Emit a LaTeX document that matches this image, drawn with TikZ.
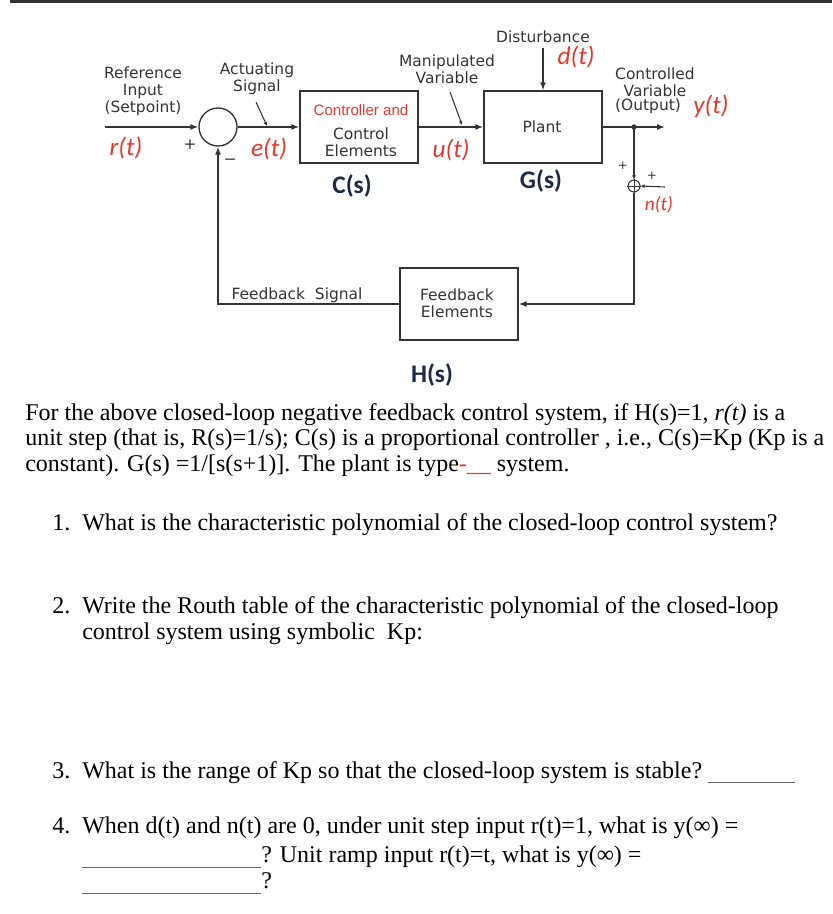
\documentclass[tikz,border=0pt]{standalone}
\usepackage{fontspec}
\setmainfont{Liberation Serif}
\newfontfamily\djv{DejaVu Sans}
\newfontfamily\arl{Liberation Sans}
\newfontfamily\carl{Carlito}
\usetikzlibrary{arrows.meta}
\definecolor{redlab}{HTML}{E8362D}
\definecolor{navy}{HTML}{1C2B45}
\definecolor{linec}{HTML}{333333}
\begin{document}
\begin{tikzpicture}[x=0.75pt,y=-0.75pt,
  lab/.style={font=\djv\fontsize{11.6}{12.75}\selectfont, text=linec, inner sep=0, align=center},
  redl/.style={font=\carl\itshape\fontsize{19}{20}\selectfont, text=redlab, inner sep=0},
  tf/.style={font=\carl\bfseries\fontsize{19}{20}\selectfont, text=navy, inner sep=0},
  blk/.style={draw=linec, line width=1pt, minimum width=88.5pt, minimum height=54pt, inner sep=0},
  arr/.style={draw=linec, line width=1pt, -{Latex[length=6pt,width=4.5pt]}},
  sarr/.style={draw=linec, line width=0.8pt, -{Latex[length=3pt,width=3pt]}},
  ln/.style={draw=linec, line width=1pt},
  body/.style={font=\fontsize{18}{21}\selectfont, anchor=base west, inner sep=0},
  blank/.style={draw=black!60, line width=0.6pt},
]
\useasboundingbox (0,0) rectangle (832,914);
\draw[line width=2.5pt, draw=black!80] (10,1.5) -- (832,1.5);

% blocks
\node[draw=linec, line width=1pt, circle, minimum size=28.5pt, inner sep=0] (sum) at (218,127) {};
\node[blk] (ctrl) at (359,127) {};
\node[blk] (plant) at (543,127) {};
\node[blk] (fb) at (459,304) {};
\node[draw=linec, line width=0.8pt, circle, minimum size=9pt, inner sep=0] (ncirc) at (634,186) {};
\draw[ln, line width=0.6pt] (ncirc.north) -- (ncirc.south) (ncirc.west) -- (ncirc.east);

% coordinates
\coordinate (rin) at (105,127);
\coordinate (tap) at (634,127);
\coordinate (yout) at (665,127);
\coordinate (dist) at (543,48);
\coordinate (nin) at (665,187);
\coordinate (aS) at (256,102);
\coordinate (aE) at (267,126);
\coordinate (mS) at (450,92);
\coordinate (mE) at (462,125);

% connectors
\draw[arr] (rin) -- (sum.west);
\draw[arr] (sum.east) -- (ctrl.west);
\draw[arr] (ctrl.east) -- (plant.west);
\draw[arr] (plant.east) -- (yout);
\draw[arr] (dist) -- (plant.north);
\fill[linec] (tap) circle (2pt);
\draw[sarr] (tap) -- (ncirc.north);
\draw[sarr] (nin) -- (ncirc.east);
\draw[arr] (ncirc.south) |- (fb.east);
\draw[arr] (fb.west) -| (sum.south);
\draw[sarr] (aS) -- (aE);
\draw[sarr] (mS) -- (mE);

% labels
\node[lab] (l1) at (543,37) {Disturbance};
\node[lab] (l2) at (447,69) {Manipulated\\Variable};
\node[lab] (l3) at (143,91) {Reference\\Input\\(Setpoint)};
\node[lab] (l4) at (257,79) {Actuating\\Signal};
\node[lab] (l5) at (655,82) {Controlled\\Variable};
\node[lab] (l6) at (648,106) {(Output)};
\node[lab, text=redlab, font=\arl\fontsize{11.3}{13}\selectfont] (l7) at (361,110) {Controller and};
\node[lab] (l8) at (361,142) {Control\\Elements};
\node[lab] (l9) at (542,127) {Plant};
\node[lab] (l10) at (297,295) {Feedback\ \ Signal};
\node[lab] (l11) at (457,303) {Feedback\\Elements};
\node[lab] (p1) at (190,145) {+};
\node[lab] (p2) at (230,162) {−};
\node[lab, font=\djv\fontsize{9}{10}\selectfont] (p3) at (623,166) {+};
\node[lab, font=\djv\fontsize{9}{10}\selectfont] (p4) at (652,176) {+};

\node[redl] (rt) at (126,148) {r(t)};
\node[redl] (et) at (269,149) {e(t)};
\node[redl] (ut) at (451,150) {u(t)};
\node[redl] (dt) at (576,57) {d(t)};
\node[redl] (yt) at (711,106) {y(t)};
\node[redl, font=\carl\itshape\fontsize{14.5}{16}\selectfont] (nt) at (659,205) {n(t)};

\node[tf] (cs) at (352,186) {C(s)};
\node[tf] (gs) at (541,181) {G(s)};
\node[tf] (hs) at (432,375) {H(s)};

% body text
\node[body] (t1) at (25,420) {For the above closed-loop negative feedback control system, if H(s)=1, \textit{r(t)} is a};
\node[body] (t2) at (25,445) {unit step (that is, R(s)=1/s); C(s) is a proportional controller , i.e., C(s)=Kp (Kp is a};
\node[body] (t3) at (25,471) {constant). G(s) =1/[s(s+1)]. The plant is type{\color{redlab}-\_\_} system.};

\node[body] (q1n) at (52,530) {1.};
\node[body] (q1) at (82,530) {What is the characteristic polynomial of the closed-loop control system?};
\node[body] (q2n) at (52,613) {2.};
\node[body] (q2a) at (82,613) {Write the Routh table of the characteristic polynomial of the closed-loop};
\node[body] (q2b) at (82,639) {control system using symbolic \ Kp:};
\node[body] (q3n) at (52,778) {3.};
\node[body] (q3) at (82,778) {What is the range of Kp so that the closed-loop system is stable?};
\coordinate (b3s) at (708,782);
\coordinate (b3e) at (795,782);
\draw[blank] (b3s) -- (b3e);
\node[body] (q4n) at (52,833) {4.};
\node[body] (q4a) at (82,833) {When d(t) and n(t) are 0, under unit step input r(t)=1, what is y(∞) =};
\coordinate (b4s) at (82,867);
\coordinate (b4e) at (261,867);
\draw[blank] (b4s) -- (b4e);
\node[body] (q4b) at (261,862) {? Unit ramp input r(t)=t, what is y(∞) =};
\coordinate (b5s) at (82,893);
\coordinate (b5e) at (261,893);
\draw[blank] (b5s) -- (b5e);
\node[body] (q4c) at (261,888) {?};
\end{tikzpicture}
\end{document}
